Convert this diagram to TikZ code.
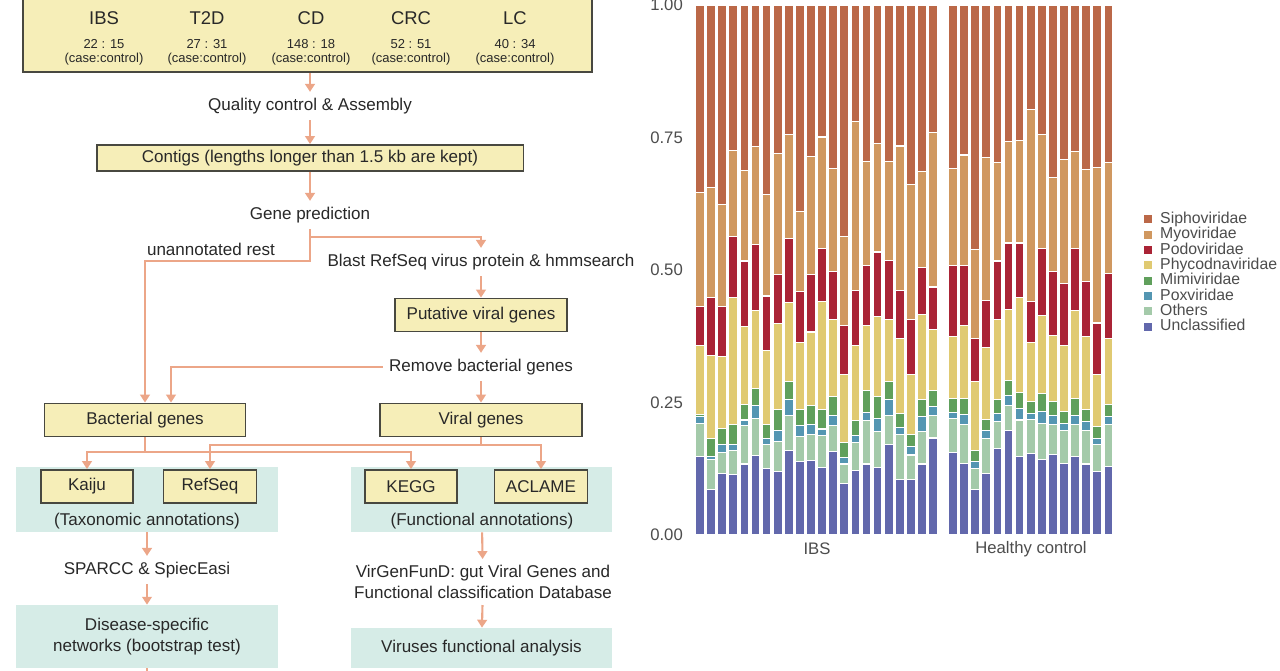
\documentclass[tikz,border=0pt]{standalone}
\usepackage{fontspec}
\setmainfont{Liberation Sans}
\usetikzlibrary{arrows.meta,positioning}

\definecolor{boxfill}{RGB}{246,238,184}
\definecolor{boxline}{RGB}{72,72,64}
\definecolor{panelfill}{RGB}{214,236,231}
\definecolor{flowline}{RGB}{236,166,136}
\definecolor{ink}{RGB}{40,40,40}
\definecolor{axisgray}{RGB}{77,77,77}
\definecolor{sipho}{RGB}{187,104,72}
\definecolor{myo}{RGB}{208,152,96}
\definecolor{podo}{RGB}{170,36,54}
\definecolor{phyco}{RGB}{224,202,114}
\definecolor{mimi}{RGB}{96,160,92}
\definecolor{pox}{RGB}{84,150,178}
\definecolor{others}{RGB}{164,202,170}
\definecolor{unclass}{RGB}{98,104,172}

% one stacked bar: x, then the tops of the seven lower layers
\newcommand{\stackbar}[8]{%
  \foreach \lo/\hi/\col in {0/#2/unclass,#2/#3/others,#3/#4/pox,#4/#5/mimi,
                            #5/#6/phyco,#6/#7/podo,#7/#8/myo,#8/1/sipho}
    \path[seg,fill=\col] (#1-4.4,\lo) rectangle (#1+4.4,\hi);
}

\tikzset{
  gene box/.style={draw=boxline,fill=boxfill,line width=1.1pt,text=ink,
    font=\fontsize{9.7}{11.5}\selectfont,inner sep=0pt},
  panel/.style={fill=panelfill,text=ink,align=center,
    font=\fontsize{9.7}{12}\selectfont,inner sep=0pt},
  stage/.style={text=ink,align=center,font=\fontsize{9.7}{12}\selectfont},
  cohort/.style={text=ink,font=\fontsize{10.5}{12}\selectfont},
  ratio/.style={text=ink,align=center,font=\fontsize{7.4}{8}\selectfont},
  flow/.style={draw=flowline,line width=1.2pt,-{Triangle[length=4.5pt,width=5.5pt]}},
  seg/.style={draw=white,line width=0.6pt},
  tick label/.style={text=axisgray,anchor=east,font=\fontsize{9.5}{11}\selectfont},
  group label/.style={text=axisgray,font=\fontsize{9.5}{11}\selectfont},
  legend key/.style={minimum size=0.18cm,inner sep=0pt,draw=white,line width=0.4pt},
  legend text/.style={text=axisgray,anchor=west,inner sep=0pt,
    text height=6.4pt,text depth=1.6pt,font=\fontsize{9}{10}\selectfont},
}

\begin{document}
\begin{tikzpicture}[x=0.02cm,y=-0.02cm]
  \useasboundingbox (0,0) rectangle (1280,670);
  \fill[white] (0,0) rectangle (1280,670);
  \clip (0,0) rectangle (1280,670);

  % cohorts
  \node[gene box,minimum width=11.38cm,minimum height=1.68cm] (cohorts) at (307.5,30) {};
  \node[cohort] (ibs) at (104,18) {IBS};
  \node[cohort] (t2d) at (207,18) {T2D};
  \node[cohort] (cd) at (311,18) {CD};
  \node[cohort] (crc) at (411,18) {CRC};
  \node[cohort] (lc) at (515,18) {LC};
  \node[ratio] (ibsn) at (104,52) {22 : 15\\(case:control)};
  \node[ratio] (t2dn) at (207,52) {27 : 31\\(case:control)};
  \node[ratio] (cdn) at (311,52) {148 : 18\\(case:control)};
  \node[ratio] (crcn) at (411,52) {52 : 51\\(case:control)};
  \node[ratio] (lcn) at (515,52) {40 : 34\\(case:control)};

  % main pipeline
  \node[stage] (qc) at (310,106) {Quality control \& Assembly};
  \node[gene box,minimum width=8.54cm,minimum height=0.52cm] (contigs) at (310,158)
    {Contigs (lengths longer than 1.5 kb are kept)};
  \node[stage] (gene) at (310,215) {Gene prediction};
  \node[stage] (unann) at (211,249) {unannotated rest};
  \node[stage] (blast) at (481,262) {Blast RefSeq virus protein \& hmmsearch};
  \node[gene box,minimum width=3.44cm,minimum height=0.66cm] (putative) at (481,315)
    {Putative viral genes};
  \node[stage] (remove) at (481,367) {Remove bacterial genes};
  \node[gene box,minimum width=4.02cm,minimum height=0.66cm] (bact) at (145,420)
    {Bacterial genes};
  \node[gene box,minimum width=4.04cm,minimum height=0.66cm] (viral) at (481,420)
    {Viral genes};

  % annotation panels
  \node[panel,minimum width=5.24cm,minimum height=1.3cm] (taxo) at (147,499.5) {};
  \node[panel,minimum width=5.22cm,minimum height=1.3cm] (func) at (481.5,499.5) {};
  \node[gene box,minimum width=1.84cm,minimum height=0.66cm] (kaiju) at (87,486.5) {Kaiju};
  \node[gene box,minimum width=1.86cm,minimum height=0.66cm] (refseq) at (210,486.5) {RefSeq};
  \node[gene box,minimum width=1.84cm,minimum height=0.66cm] (kegg) at (411,486.5) {KEGG};
  \node[gene box,minimum width=1.86cm,minimum height=0.66cm] (aclame) at (541,486.5) {ACLAME};
  \node[stage] (taxolabel) at (147,521) {(Taxonomic annotations)};
  \node[stage] (funclabel) at (482,521) {(Functional annotations)};

  \node[stage] (sparcc) at (147,570) {SPARCC \& SpiecEasi};
  \node[panel,minimum width=5.24cm,minimum height=1.26cm] (disease) at (147,636.5)
    {Disease-specific\\networks (bootstrap test)};
  \node[stage] (virgen) at (483,582)
    {VirGenFunD: gut Viral Genes and\\Functional classification Database};
  \node[panel,minimum width=5.22cm,minimum height=0.8cm] (viruses) at (481.5,648)
    {Viruses functional analysis};

  % connectors
  \coordinate (restturn) at (145,261);
  \coordinate (blastturn) at (310,237);
  \coordinate (bactturn) at (171,367);
  \coordinate (bactsplit) at (147,452);
  \coordinate (viralsplit) at (481,445);
  \coordinate (offpage) at (147,690);
  \draw[flow] (qc |- cohorts.south) -- (qc);
  \draw[flow] (qc) -- (contigs);
  \draw[flow] (contigs) -- (gene);
  \draw[flow] (gene.south) |- (restturn) -- (bact.north -| restturn);
  \draw[flow] (blastturn) -| (blast.north);
  \draw[flow] (blast) -- (putative);
  \draw[flow] (putative) -- (remove);
  \draw[flow] (remove) -- (viral);
  \draw[flow] (remove.west) -| (bact.north -| bactturn);
  \draw[flow] (bact.south) |- (kaiju.north |- bactsplit) -- (kaiju.north);
  \draw[flow] (bact.south) |- (kegg.north |- bactsplit) -- (kegg.north);
  \draw[flow] (viral.south) |- (refseq.north |- viralsplit) -- (refseq.north);
  \draw[flow] (viral.south) |- (aclame.north |- viralsplit) -- (aclame.north);
  \draw[flow] (taxo) -- (sparcc);
  \draw[flow] (sparcc) -- (disease);
  \draw[flow] (disease) -- (offpage);
  \draw[flow] (func) -- (virgen);
  \draw[flow] (virgen) -- (viruses);

  % relative abundance per sample
  \begin{scope}[shift={(0,535)},yscale=-530]
    \foreach \vu/\vo/\vp/\vm/\vf/\vd/\vy [count=\i from 0] in {
      0.148/0.211/0.223/0.228/0.357/0.431/0.646, 0.086/0.142/0.149/0.182/0.338/0.448/0.656,
      0.116/0.155/0.170/0.201/0.336/0.432/0.623, 0.115/0.159/0.170/0.208/0.448/0.564/0.726,
      0.134/0.206/0.217/0.247/0.394/0.517/0.687, 0.150/0.220/0.245/0.277/0.423/0.548/0.733,
      0.126/0.170/0.182/0.208/0.349/0.451/0.642, 0.119/0.176/0.198/0.236/0.399/0.491/0.720,
      0.160/0.226/0.255/0.289/0.438/0.559/0.755, 0.138/0.186/0.206/0.236/0.363/0.459/0.610,
      0.141/0.190/0.209/0.245/0.383/0.491/0.714, 0.127/0.187/0.200/0.236/0.440/0.541/0.751,
      0.157/0.206/0.226/0.262/0.406/0.498/0.691, 0.098/0.134/0.147/0.174/0.302/0.396/0.564,
      0.121/0.174/0.187/0.216/0.357/0.462/0.780, 0.134/0.216/0.232/0.272/0.396/0.508/0.705,
      0.127/0.196/0.219/0.262/0.413/0.534/0.738, 0.170/0.226/0.255/0.289/0.406/0.518/0.705,
      0.104/0.190/0.203/0.229/0.370/0.462/0.734, 0.104/0.151/0.167/0.190/0.302/0.406/0.662,
      0.134/0.196/0.223/0.255/0.416/0.505/0.685, 0.183/0.226/0.242/0.272/0.387/0.468/0.760}
    {
      \pgfmathsetmacro{\bx}{700+11.1*\i}
      \stackbar{\bx}{\vu}{\vo}{\vp}{\vm}{\vf}{\vd}{\vy}
    }
    \foreach \vu/\vo/\vp/\vm/\vf/\vd/\vy [count=\i from 0] in {
      0.155/0.220/0.231/0.258/0.374/0.508/0.692, 0.135/0.208/0.228/0.258/0.396/0.508/0.717,
      0.086/0.126/0.138/0.160/0.289/0.370/0.538, 0.116/0.182/0.197/0.218/0.353/0.442/0.713,
      0.164/0.214/0.230/0.255/0.406/0.517/0.702, 0.198/0.245/0.264/0.291/0.426/0.551/0.742,
      0.148/0.217/0.239/0.269/0.449/0.551/0.745, 0.154/0.218/0.230/0.252/0.364/0.440/0.802,
      0.143/0.211/0.233/0.267/0.415/0.540/0.755, 0.152/0.208/0.226/0.252/0.377/0.498/0.675,
      0.135/0.198/0.211/0.233/0.357/0.475/0.708, 0.149/0.208/0.226/0.258/0.423/0.540/0.723,
      0.134/0.198/0.214/0.237/0.374/0.479/0.689, 0.119/0.170/0.182/0.204/0.302/0.400/0.694,
      0.130/0.208/0.223/0.247/0.370/0.494/0.702}
    {
      \pgfmathsetmacro{\bx}{953+11.1*\i}
      \stackbar{\bx}{\vu}{\vo}{\vp}{\vm}{\vf}{\vd}{\vy}
    }
    \foreach \tv in {0.00,0.25,0.50,0.75,1.00}
      \node[tick label] at (689,\tv) {\tv};
  \end{scope}
  \node[group label] (ibsgroup) at (817,549) {IBS};
  \node[group label] (hcgroup) at (1031,549) {Healthy control};

  % legend
  \foreach \col/\fam [count=\k] in {sipho/Siphoviridae,myo/Myoviridae,podo/Podoviridae,
      phyco/Phycodnaviridae,mimi/Mimiviridae,pox/Poxviridae,others/Others,unclass/Unclassified}
  {
    \node[legend key,fill=\col] (key\k) at (1148,204+15.3*\k) {};
    \node[legend text,right=0.14cm of key\k] (fam\k) {\fam};
  }
\end{tikzpicture}
\end{document}
